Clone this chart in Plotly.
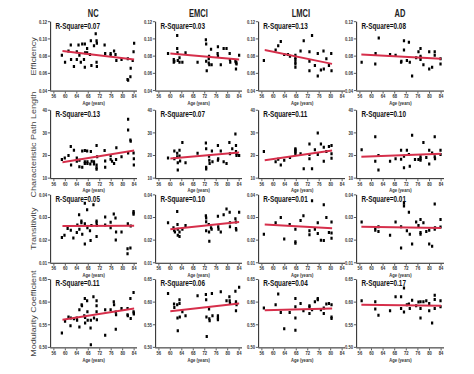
import plotly.graph_objects as go

W, H = 474, 374          # final visible size
SX = 0.75                 # horizontal condensing of the reference picture
WF = W / SX               # figure width before condensing

groups = ["NC", "EMCI", "LMCI", "AD"]
measures = ["Efficiency", "Characteristic Path Length", "Transitivity", "Modularity Coefficient"]
x_ticks = [56, 60, 64, 68, 72, 76, 80, 84]
y_ticks = [
    [0.04, 0.06, 0.08, 0.10, 0.12],
    [10, 20, 30, 40],
    [0.01, 0.02, 0.03, 0.04],
    [0.50, 0.55, 0.60, 0.65],
]
y_tick_text = [
    ["0.04", "0.06", "0.08", "0.10", "0.12"],
    ["10", "20", "30", "40"],
    ["0.01", "0.02", "0.03", "0.04"],
    ["0.50", "0.55", "0.60", "0.65"],
]
r_square = [
    ["0.07", "0.03", "0.13", "0.08"],
    ["0.13", "0.07", "0.11", "0.10"],
    ["0.05", "0.10", "0.01", "0.01"],
    ["0.11", "0.06", "0.04", "0.17"],
]

# ---- Efficiency ----
nc_eff_age = [58.8,59.9,61.1,61.9,62,63,64,64,64.6,64.9,65.4,65.9,66.5,66.8,66.9,66.8,67.6,67.6,68.6,68.9,69.1,70,70.6,70.9,71,70.9,71,73.7,73.9,75.8,75.8,77,77.5,77.8,79.6,81.7,81.9,81.8,82.7,82.8,83.5,83.8,84]
nc_eff = [0.081,0.073,0.086,0.093,0.076,0.068,0.085,0.076,0.093,0.081,0.073,0.094,0.076,0.094,0.084,0.067,0.089,0.084,0.082,0.098,0.069,0.092,0.106,0.098,0.095,0.073,0.068,0.093,0.083,0.083,0.081,0.086,0.082,0.075,0.076,0.053,0.052,0.077,0.056,0.066,0.075,0.085,0.095]
emci_eff_age = [59.2,61.2,61.2,61.4,62.4,62.4,62.5,62.6,63.2,63.2,64.2,65.3,69.5,72.4,72.5,72.5,72.7,73.4,73.4,73.6,73.5,74.2,74.4,76.6,76.5,76.6,77.6,78.6,79.6,80.7,80.8,80.9,82.7,82.9,83.1,83.0,82.9,84]
emci_eff = [0.083,0.076,0.073,0.074,0.104,0.089,0.084,0.075,0.078,0.073,0.073,0.084,0.073,0.099,0.094,0.074,0.063,0.077,0.072,0.070,0.080,0.088,0.070,0.091,0.083,0.080,0.070,0.089,0.089,0.083,0.076,0.073,0.074,0.072,0.071,0.073,0.065,0.081]
lmci_eff_age = [56.7,60.8,61.7,62.6,63.8,65.1,65.8,67.7,67.7,67.7,67.7,67.7,67.7,69.5,70.6,72.6,72.6,72.6,73.5,74.5,75.5,75.5,76.6,77.5,77.6,78.5,79.4,80.2,80.3]
lmci_eff = [0.075,0.087,0.092,0.097,0.082,0.082,0.080,0.081,0.078,0.076,0.073,0.071,0.067,0.086,0.098,0.085,0.074,0.063,0.104,0.069,0.057,0.083,0.064,0.086,0.065,0.077,0.069,0.083,0.063]
ad_eff_age = [56.6,61.4,61.3,62.5,66.4,68.3,70.2,70.3,71.2,71.2,72.2,72.9,73.2,74,75.4,76.2,76.9,76.9,76.9,76.9,77.9,79.9,79.9,80.9,81.8,81.8,83.8,83.8]
ad_eff = [0.073,0.083,0.071,0.101,0.082,0.081,0.073,0.074,0.098,0.087,0.075,0.096,0.073,0.057,0.078,0.085,0.089,0.080,0.078,0.076,0.070,0.085,0.065,0.067,0.085,0.081,0.077,0.071]

# ---- Characteristic Path Length ----
nc_cpl_age = [58.8,59.8,61.1,61.9,62,63,64,64,64.9,64.9,65.9,65.9,66.8,66.8,66.8,67.6,67.7,67.7,68.7,68.9,69.2,70,70,70.9,70.9,70.9,70.9,71.1,73.7,73.9,73.9,75.8,75.8,76.3,77,77.8,77.7,79.6,81.9,81.9,81.9,82.7,82.8,83.8,83.9,83.9]
nc_cpl = [18.2,18.9,20,24,15.8,22.3,18.9,17.5,17.9,15,22,14.8,22.2,17.2,16.5,22,17.2,16.5,16.2,21.8,17.5,17.2,16.2,24.4,15.8,14.6,13.9,19.4,22.2,17.6,14.8,20,18.4,17.5,16.5,23.4,18.2,19.4,36,31.3,21.1,26.9,26.3,21.1,18.6,15.8]
emci_cpl_age = [59.2,61.4,61.4,62.4,62.4,62.6,62.6,63.2,63.2,63.4,64.2,65.3,69.5,72.4,72.5,72.5,72.5,73.5,73.6,73.7,74.5,74.7,76.6,76.7,76.6,77.6,78.6,79.6,80.6,80.8,81.6,82.7,82.9,82.9,83.1,83.1,84]
emci_cpl = [18.9,22,18.6,21,19.4,16.8,13.6,22.3,19.8,17.6,25.8,16.8,21,25.5,23,14.8,14,19.7,17.9,16.5,22,17.2,24.4,18.6,17.9,22,17.2,16.5,25.8,20.8,23,29.5,24.4,21.8,20.8,20,20]
lmci_cpl_age = [56.7,60.8,61.7,62.6,63.8,65.8,67.7,67.7,67.7,67.7,67.7,69.5,70.6,72.6,72.6,72.6,73.5,74.5,75.5,75.5,76.6,77.6,77.6,78.5,79.4,80.3,80.3,80.3]
lmci_cpl = [21.8,17.2,18.4,15.8,17.9,19.1,23,22.5,22,21.5,20.8,20.8,14.2,25.1,20.4,18.6,14.2,22.5,29.9,20.4,25.1,23.7,17.5,21.8,24,24.4,20.8,18.8]
ad_cpl_age = [56.6,61.3,61.3,62.4,62.4,66.4,68.3,70.2,70.2,71.2,71.2,72.2,72.9,73.2,74,75,76.2,76.9,76.9,76.9,77.9,78.9,79.9,79.9,80.9,81.8,81.8,81.9,83.8,83.8]
ad_cpl = [22.5,28.3,17.5,20,13.6,17.5,18.6,22.3,18.4,14.6,19.7,22.3,20.5,15.3,29,18.2,18.2,19.4,18.6,17.9,25.8,19.1,22.3,16.2,21.1,28.3,19.4,18.6,22.3,20.4]

# ---- Transitivity ----
nc_tr_age = [58.8,59.7,60.8,61.9,62.8,64,64.2,64.8,64.9,65.6,65.6,65.9,66.8,66.8,66.8,67.6,67.7,68.6,68.8,69.1,69.8,70.9,70.9,70.9,71,73.9,73.9,75.8,75.8,76.9,77.5,77.6,77.7,79.6,81.7,81.7,81.8,82.7,82.8,83.8,83.8,83.8]
nc_tr = [0.0212,0.0222,0.0251,0.0244,0.0209,0.0234,0.0267,0.0312,0.0248,0.0284,0.0277,0.0226,0.0363,0.0272,0.0183,0.0334,0.0255,0.0241,0.0198,0.0265,0.0356,0.0284,0.0277,0.0216,0.0265,0.0302,0.0267,0.0279,0.0255,0.0315,0.0298,0.0201,0.0236,0.0236,0.0162,0.0140,0.0272,0.0165,0.0262,0.0327,0.0320,0.0314]
emci_tr_age = [59.2,61.1,61.3,61.6,62.4,62.5,62.6,62.6,63.2,63.2,64.2,65.3,72.4,72.5,72.5,72.5,73.4,73.5,73.6,74.2,74.4,76.6,76.7,76.8,77.6,78.6,79.6,80.7,80.8,80.8,82.7,82.9,82.9,83.0,84]
emci_tr = [0.0277,0.0255,0.0244,0.0236,0.0327,0.0269,0.0248,0.0222,0.0236,0.0216,0.0248,0.0265,0.0308,0.0298,0.0281,0.0241,0.0269,0.0236,0.0195,0.0255,0.0248,0.0305,0.0259,0.0248,0.0236,0.0312,0.0338,0.0323,0.0277,0.0259,0.0295,0.0280,0.0251,0.0245,0.0323]
lmci_tr_age = [56.7,60.8,62.6,63.8,65.7,67.7,67.7,67.7,69.5,70.5,72.6,72.6,73.5,74.5,75.5,75.5,76.6,77.6,77.6,78.5,79.4,80.3,80.3,80.3]
lmci_tr = [0.0226,0.0277,0.0300,0.0205,0.0269,0.0193,0.0186,0.0248,0.0287,0.0308,0.0241,0.0224,0.0374,0.0248,0.0277,0.0229,0.0200,0.0356,0.0198,0.0300,0.0234,0.0280,0.0231,0.0208]
ad_tr_age = [56.6,61.3,61.3,62.4,62.4,66.4,68.3,70.2,70.2,71.2,71.2,72.2,72.9,73.2,74,75.4,76.2,76.9,76.9,76.9,77.9,78.9,79.9,79.9,80.9,81.8,81.8,81.9,83.8,83.8]
ad_tr = [0.0280,0.0255,0.0244,0.0259,0.0238,0.0222,0.0280,0.0165,0.0259,0.0363,0.0351,0.0241,0.0323,0.0226,0.0183,0.0280,0.0265,0.0291,0.0234,0.0226,0.0277,0.0238,0.0244,0.0183,0.0173,0.0360,0.0248,0.0255,0.0291,0.0258]

# ---- Modularity Coefficient ----
nc_mod_age = [58.8,59.9,61.1,61.8,61.9,63,64,64.1,64.9,64.9,65.7,65.8,66.6,66.8,66.9,66.9,67.6,67.7,67.8,68.8,68.9,68.9,69.8,70,70.9,70.9,70.9,71,73.9,73.9,75.8,76.9,77,77.6,77.7,77.6,79.6,81.7,81.7,81.8,82.7,82.8,83.8,83.8,83.9,83.9]
nc_mod = [0.532,0.558,0.567,0.548,0.565,0.563,0.565,0.560,0.583,0.545,0.594,0.592,0.570,0.608,0.566,0.554,0.603,0.579,0.560,0.543,0.506,0.560,0.612,0.565,0.603,0.592,0.579,0.561,0.583,0.527,0.583,0.601,0.594,0.578,0.572,0.540,0.586,0.586,0.572,0.570,0.608,0.564,0.621,0.579,0.576,0.574]
emci_mod_age = [59.2,61.3,61.4,62.4,62.5,62.6,63.2,63.2,63.3,64.2,65.3,69.5,72.4,72.5,72.6,72.7,73.5,73.6,73.7,74.5,74.7,76.6,76.6,76.6,77.6,79.6,80.6,80.7,80.8,82.7,82.9,82.9,83.1,82.9,84]
emci_mod = [0.619,0.596,0.588,0.594,0.565,0.537,0.605,0.597,0.567,0.579,0.570,0.614,0.617,0.605,0.567,0.524,0.585,0.563,0.559,0.619,0.570,0.570,0.565,0.561,0.623,0.603,0.612,0.603,0.597,0.624,0.601,0.597,0.594,0.581,0.633]
lmci_mod_age = [56.7,60.8,61.7,62.6,63.8,65.7,67.7,67.7,67.7,67.7,69.5,70.5,72.6,72.6,72.6,73.5,74.5,75.5,75.5,76.6,77.6,77.6,78.5,79.4,80.3,80.3,80.3]
lmci_mod = [0.587,0.594,0.618,0.577,0.541,0.577,0.608,0.590,0.565,0.538,0.597,0.581,0.592,0.589,0.575,0.583,0.601,0.608,0.605,0.583,0.587,0.575,0.596,0.597,0.594,0.567,0.564]
ad_mod_age = [56.6,61.3,61.3,62.4,66.4,68.3,70.2,70.2,71.2,71.2,72.2,72.9,73.2,74,75.4,76.2,76.9,76.9,76.9,77.9,78.9,79.9,79.9,80.9,81.8,81.8,81.8,83.8,83.8]
ad_mod = [0.603,0.601,0.585,0.571,0.581,0.612,0.612,0.586,0.631,0.578,0.594,0.596,0.586,0.604,0.592,0.600,0.601,0.586,0.565,0.601,0.603,0.597,0.581,0.554,0.615,0.606,0.586,0.603,0.590]

# Regression lines: [age_start, age_end], [value_start, value_end]
fit_age = [[59, 84], [60, 84], [57, 80.5], [56.5, 84]]
fit_eff = [[0.086, 0.076], [0.083, 0.076], [0.087, 0.071], [0.082, 0.077]]
fit_cpl = [[17.0, 22.2], [18.7, 21.3], [17.9, 22.2], [19.4, 20.8]]
fit_tr = [[0.0262, 0.0264], [0.0248, 0.0280], [0.0269, 0.0252], [0.0259, 0.0254]]
fit_mod = [[0.561, 0.586], [0.580, 0.597], [0.582, 0.586], [0.594, 0.592]]

panels = [
    [(nc_eff_age, nc_eff), (emci_eff_age, emci_eff), (lmci_eff_age, lmci_eff), (ad_eff_age, ad_eff)],
    [(nc_cpl_age, nc_cpl), (emci_cpl_age, emci_cpl), (lmci_cpl_age, lmci_cpl), (ad_cpl_age, ad_cpl)],
    [(nc_tr_age, nc_tr), (emci_tr_age, emci_tr), (lmci_tr_age, lmci_tr), (ad_tr_age, ad_tr)],
    [(nc_mod_age, nc_mod), (emci_mod_age, emci_mod), (lmci_mod_age, lmci_mod), (ad_mod_age, ad_mod)],
]
fits = [fit_eff, fit_cpl, fit_tr, fit_mod]

# layout geometry in final pixels
col_px = [(51, 137), (156, 242), (259, 345), (357, 444)]
row_px = [(19, 89), (109, 178), (195, 264), (281, 350)]

FONT = "Liberation Sans, Arial, Helvetica, sans-serif"
LINE_COLOR = "#d62f4b"

fig = go.Figure()
layout = dict(
    width=WF, height=H,
    margin=dict(l=0, r=0, t=0, b=0),
    paper_bgcolor="white", plot_bgcolor="white",
    showlegend=False,
    font=dict(family=FONT, color="#222"),
)
annotations = []

for r in range(4):
    for c in range(4):
        k = r * 4 + c + 1
        xs = "" if k == 1 else str(k)
        ages, vals = panels[r][c]
        fig.add_trace(go.Scatter(
            x=ages, y=vals, mode="markers",
            marker=dict(symbol="square", size=3, color="black"),
            xaxis="x" + xs, yaxis="y" + xs, hoverinfo="skip",
        ))
        fig.add_trace(go.Scatter(
            x=fit_age[c], y=fits[r][c], mode="lines",
            line=dict(color=LINE_COLOR, width=2),
            xaxis="x" + xs, yaxis="y" + xs, hoverinfo="skip",
        ))
        x0, x1 = col_px[c]
        y0, y1 = row_px[r]
        yt = y_ticks[r]
        layout["xaxis" + xs] = dict(
            domain=[x0 / W, x1 / W], range=[55, 85], anchor="y" + xs,
            tickvals=x_ticks, ticks="outside", ticklen=2, tickwidth=1.3,
            ticklabelstandoff=-2,
            tickfont=dict(size=5.5, color="#333", family=FONT, weight="bold"),
            showline=True, linecolor="black", linewidth=1,
            showgrid=False, zeroline=False, fixedrange=True,
        )
        layout["yaxis" + xs] = dict(
            domain=[1 - y1 / H, 1 - y0 / H], range=[yt[0], yt[-1]], anchor="x" + xs,
            tickvals=yt, ticktext=y_tick_text[r], ticks="outside", ticklen=3, tickwidth=1,
            tickfont=dict(size=5.5, color="#333", family=FONT, weight="bold"),
            showline=True, linecolor="black", linewidth=1.3,
            showgrid=False, zeroline=False, fixedrange=True,
        )
        annotations.append(dict(
            text="<b>R-Square=" + r_square[r][c] + "</b>",
            xref="paper", yref="paper",
            x=(x0 + 3) / W, y=1 - (y0 + 4) / H, xanchor="left", yanchor="middle",
            showarrow=False, font=dict(size=8.5, color="#111", family=FONT),
        ))
        annotations.append(dict(
            text="<b>Age (years)</b>",
            xref="paper", yref="paper",
            x=((x0 + x1) / 2) / W, y=1 - (y1 + 12.5) / H, xanchor="center", yanchor="middle",
            showarrow=False, font=dict(size=5.5, color="#333", family=FONT),
        ))

for c in range(4):
    x0, x1 = col_px[c]
    annotations.append(dict(
        text="<b>" + groups[c] + "</b>", xref="paper", yref="paper",
        x=((x0 + x1) / 2 - 1) / W, y=1 - 11 / H, xanchor="center", yanchor="middle",
        showarrow=False, font=dict(size=10, color="#222", family=FONT),
    ))

for r in range(4):
    y0, y1 = row_px[r]
    annotations.append(dict(
        text=measures[r], xref="paper", yref="paper",
        x=34 / W, y=1 - ((y0 + y1) / 2) / H, xanchor="center", yanchor="middle",
        textangle=-90, showarrow=False, font=dict(size=9, color="#444", family=FONT),
    ))

layout["annotations"] = annotations
fig.update_layout(**layout)

post = (
    "document.body.style.margin='0';"
    "document.body.style.overflow='hidden';"
    "var gd=document.getElementById('{plot_id}');"
    "gd.style.transformOrigin='0 0';"
    "gd.style.transform='scaleX(" + str(SX) + ")';"
)
fig.write_html("out.html", post_script=post, config={"displayModeBar": False})
